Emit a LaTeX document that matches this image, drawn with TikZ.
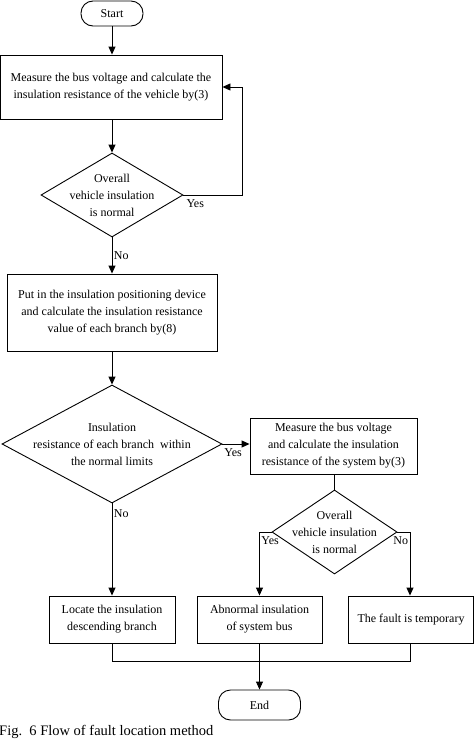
\documentclass[tikz,border=0pt]{standalone}
\usepackage{fontspec}
\setmainfont{Liberation Serif}
\usetikzlibrary{arrows.meta,shapes,positioning}
\tikzset{
	block/.style={
		rectangle,
		draw=black,
		line width=0.9pt,
		fill=white,
		align=center,
		inner sep=0pt,
		font={\fontsize{12}{17}\selectfont}
	},
	terminal/.style={
		block,
		rounded corners=12pt
	},
	decision/.style={
		diamond,
		draw=black,
		line width=0.9pt,
		inner sep=0pt
	},
	dtext/.style={
		align=center,
		inner sep=0pt,
		font={\fontsize{12}{17}\selectfont}
	},
	lbl/.style={
		inner sep=1.5pt,
		font={\fontsize{12}{14}\selectfont}
	},
	arrow/.style={
		draw=black,
		line width=0.9pt,
		-{Triangle[length=8pt,width=7pt]}
	},
	line/.style={
		draw=black,
		line width=0.9pt
	},
}

\begin{document}
\begin{tikzpicture}[x=1pt,y=-1pt]
	\useasboundingbox (0,0) rectangle (474,739);
	% main column
	\node[terminal,minimum width=62pt,minimum height=25pt] (start) at (112,13.5) {Start};
	\node[block,minimum width=222pt,minimum height=64pt] (x1) at (111,87)
		{Measure the bus voltage and calculate the\\insulation resistance of the vehicle by(3)};
	\node[decision,minimum width=142pt,minimum height=84pt] (d1) at (112,195) {};
	\node[dtext] (t1) at (d1) {Overall\\vehicle insulation\\is normal};
	\node[block,minimum width=210pt,minimum height=77pt] (x2) at (112,312.5)
		{Put in the insulation positioning device\\and calculate the insulation resistance\\value of each branch by(8)};
	\node[decision,minimum width=220pt,minimum height=118pt] (d2) at (112,444) {};
	\node[dtext] (t2) at (d2) {Insulation\\resistance of each branch\ \ within\\the normal limits};
	% right branch
	\node[block,minimum width=167pt,minimum height=56pt] (x3) at (333.5,446)
		{Measure the bus voltage\\and calculate the insulation\\resistance of the system by(3)};
	\node[decision,minimum width=125pt,minimum height=84pt] (d3) at (334.5,532) {};
	\node[dtext] (t3) at (d3) {Overall\\vehicle insulation\\is normal};
	% results
	\node[block,minimum width=126pt,minimum height=47pt] (x4) at (112,619.5)
		{Locate the insulation\\descending branch};
	\node[block,minimum width=125pt,minimum height=47pt] (x5) at (259.5,619.5)
		{Abnormal insulation\\of system bus};
	\node[block,minimum width=125pt,minimum height=47pt] (x6) at (411,619.5)
		{The fault is temporary};
	\node[terminal,minimum width=82pt,minimum height=30pt] (end) at (259.5,705) {End};
	\node[anchor=base west,inner sep=0pt,font={\fontsize{14.5}{17}\selectfont}] (cap) at (-1,735)
		{Fig.\ \ 6 Flow of fault location method};

	\draw[arrow] (start) -- (start |- x1.north);
	\draw[arrow] (x1.south -| d1) -- (d1.north);
	\draw[arrow] (d1.east) -- node[lbl,pos=0.2,below,yshift=-3pt] {Yes} ++(59,0) |- (x1.east);
	\draw[arrow] (d1.south) -- node[lbl,right] {No} (x2.north -| d1);
	\draw[arrow] (x2.south -| d2) -- (d2.north);
	\draw[arrow] (d2.east) -- node[lbl,pos=0,anchor=north west,yshift=-3pt] {Yes} (d2.east -| x3.west);
	\draw[line] (x3.south -| d3) -- (d3.north);
	\draw[arrow] (d3.west) -| node[lbl,pos=0.5,anchor=north west,yshift=-3pt] {Yes} (x5.north);
	\draw[arrow] (d3.east) -| node[lbl,pos=0.5,anchor=north east,yshift=-3pt] {No} ([xshift=-1pt]x6.north);
	\draw[arrow] (d2.south) -- node[lbl,pos=0.11,right] {No} (x4.north);
	\draw[line] (x4.south) -- ++(0,18) -| ([xshift=-1pt]x6.south);
	\draw[arrow] (x5.south) -- (end.north);
\end{tikzpicture}
\end{document}
